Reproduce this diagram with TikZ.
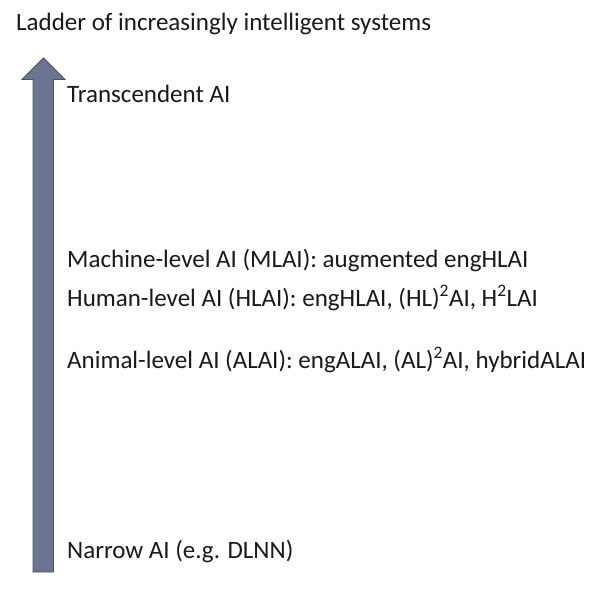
\documentclass[tikz,border=0pt]{standalone}
\usepackage{fontspec}
\setmainfont{Carlito}
\definecolor{arrowfill}{HTML}{6B7591}
\definecolor{arrowline}{HTML}{4A5268}
\tikzset{
  lbl/.style={anchor=base west, inner sep=0pt, font=\fontsize{25}{30}\selectfont, text=black!90},
}
\begin{document}
\begin{tikzpicture}[x=1pt,y=-1pt]
\useasboundingbox[fill=white] (0,0) rectangle (604,588);
\draw[arrowline, fill=arrowfill, line width=0.8pt]
  (33,572) -- (33,79.5) -- (22,79.5) -- (43.5,58) -- (65,79.5) -- (53.5,79.5) -- (53.5,572) -- cycle;
\node[lbl] (title) at (16,31) {Ladder of increasingly intelligent systems};
\node[lbl] (trans) at (67,103) {Transcendent AI};
\node[lbl] (mlai) at (67,267) {Machine-level AI (MLAI): augmented engHLAI};
\node[lbl] (hlai) at (67,306) {Human-level AI (HLAI): engHLAI, (HL)\textsuperscript{2}AI, H\textsuperscript{2}LAI};
\node[lbl] (alai) at (67,368) {Animal-level AI (ALAI): engALAI, (AL)\textsuperscript{2}AI, hybridALAI};
\node[lbl] (narrow) at (67,558) {Narrow AI (e.g. DLNN)};
\end{tikzpicture}
\end{document}
